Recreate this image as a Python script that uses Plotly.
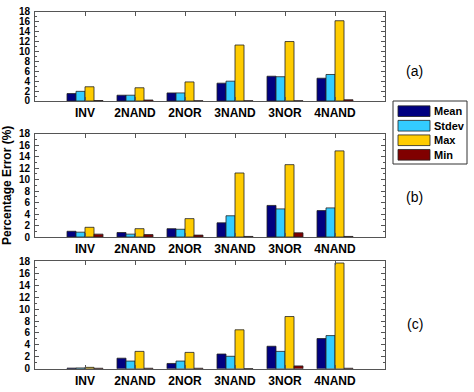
import plotly.graph_objects as go

categories = ["INV", "2NAND", "2NOR", "3NAND", "3NOR", "4NAND"]
series_names = ["Mean", "Stdev", "Max", "Min"]
colors = ["#000080", "#33CCFF", "#FFCC00", "#800000"]

# panel (a)
a_mean = [1.5, 1.17, 1.63, 3.6, 5.0, 4.6]
a_stdev = [1.95, 1.17, 1.63, 4.0, 4.9, 5.35]
a_max = [2.87, 2.67, 3.85, 11.3, 12.0, 16.2]
a_min = [0.1, 0.2, 0.05, 0.05, 0.05, 0.25]

# panel (b)
b_mean = [1.0, 0.78, 1.45, 2.47, 5.5, 4.6]
b_stdev = [0.84, 0.5, 1.35, 3.7, 4.9, 5.07]
b_max = [1.69, 1.45, 3.2, 11.15, 12.6, 15.0]
b_min = [0.5, 0.42, 0.33, 0.1, 0.73, 0.1]

# panel (c)
c_mean = [0.12, 1.78, 0.9, 2.48, 3.78, 5.07]
c_stdev = [0.15, 1.3, 1.3, 2.1, 2.92, 5.56]
c_max = [0.25, 2.92, 2.75, 6.53, 8.75, 17.7]
c_min = [0.1, 0.1, 0.1, 0.05, 0.49, 0.1]

panels = [
    ("(a)", [a_mean, a_stdev, a_max, a_min]),
    ("(b)", [b_mean, b_stdev, b_max, b_min]),
    ("(c)", [c_mean, c_stdev, c_max, c_min]),
]
y_ticks = list(range(0, 20, 2))

W, H = 474, 392
ML, MR = 35, 89
PW = W - ML - MR
# pixel positions (top, bottom) of each panel
panel_px = [(6, 98), (131.7, 238.3), (263.3, 374.3)]
label_px = [67, 197, 328]


def px_x(px):
    return (px - ML) / PW


def px_y(py):
    return 1 - py / H


FONT = "Liberation Sans, Arial, sans-serif"
fig = go.Figure()
xpos = list(range(1, len(categories) + 1))

for i, (lab, data) in enumerate(panels):
    sfx = "" if i == 0 else str(i + 1)
    for j, (name, vals) in enumerate(zip(series_names, data)):
        fig.add_trace(go.Bar(
            x=xpos, y=vals, name=name,
            marker=dict(color=colors[j], line=dict(color="#222222", width=0.8)),
            xaxis="x" + sfx, yaxis="y" + sfx,
            showlegend=False,
        ))
    top, bot = panel_px[i]
    dom = [px_y(bot), px_y(top)]
    fig.layout["xaxis" + sfx] = dict(
        domain=[0, 1], range=[0, 7], anchor="y" + sfx,
        tickvals=xpos, ticktext=categories,
        ticks="inside", ticklen=4, mirror="ticks", showline=True,
        linecolor="#555555", linewidth=1, tickcolor="#555555",
        tickfont=dict(family=FONT, size=12, color="black", weight="bold"),
        ticklabelstandoff=1,
        showgrid=False, zeroline=False, fixedrange=True,
    )
    yax = dict(
        domain=dom, range=[0, 18], anchor="x" + sfx,
        tickvals=y_ticks, ticks="inside", ticklen=4, mirror="ticks",
        showline=True, linecolor="#555555", linewidth=1, tickcolor="#555555",
        minor=dict(dtick=1, ticks="inside", ticklen=2, tickcolor="#555555"),
        tickfont=dict(family=FONT, size=10, color="black", weight="bold"),
        ticklabelstandoff=2,
        showgrid=False, zeroline=False, fixedrange=True,
    )
    if i == 1:
        yax["title"] = dict(text="Percentage Error (%)", standoff=5,
                            font=dict(family=FONT, size=12, color="black", weight="bold"))
    fig.layout["yaxis" + sfx] = yax
    fig.add_annotation(
        text=lab, xref="paper", yref="paper",
        x=px_x(415), y=px_y(label_px[i]),
        showarrow=False, xanchor="center", yanchor="middle",
        font=dict(family=FONT, size=14, color="black"),
    )

# legend box (drawn in paper space to get the wide swatches of the original)
fig.add_shape(type="rect", xref="paper", yref="paper",
              x0=px_x(393), x1=px_x(467), y0=px_y(163), y1=px_y(98),
              line=dict(color="#333333", width=1), fillcolor="white")
sw_top = [103, 118, 133, 148]
for j, name in enumerate(series_names):
    fig.add_shape(type="rect", xref="paper", yref="paper",
                  x0=px_x(398), x1=px_x(430),
                  y0=px_y(sw_top[j] + 11), y1=px_y(sw_top[j]),
                  line=dict(color="#222222", width=0.8), fillcolor=colors[j])
    fig.add_annotation(text=name, xref="paper", yref="paper",
                       x=px_x(432), y=px_y(sw_top[j] + 5.5),
                       showarrow=False, xanchor="left", yanchor="middle",
                       font=dict(family=FONT, size=11, color="black", weight="bold"))

fig.update_layout(
    width=W, height=H,
    margin=dict(l=ML, r=MR, t=0, b=0),
    barmode="group", bargap=0.28, bargroupgap=0,
    plot_bgcolor="white", paper_bgcolor="white",
    showlegend=False,
)

fig.write_html("out.html", config={"displayModeBar": False},
               post_script="document.body.style.margin='0';")
